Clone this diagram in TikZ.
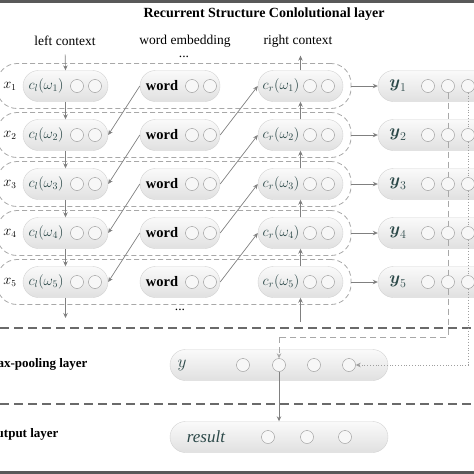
\documentclass[tikz,border=0pt]{standalone}
\usepackage{amsmath}
\usepackage{fontspec}
\setmainfont{Liberation Serif}
\usepackage{tikz}
\usetikzlibrary{arrows.meta,positioning,calc,shapes.misc}
\definecolor{pedge}{HTML}{D2D2D2}
\definecolor{dgray}{HTML}{808080}
\definecolor{lgray}{HTML}{A8A8A8}
\definecolor{sepgray}{HTML}{6A6A6A}
\definecolor{ink}{HTML}{2B4848}
\tikzset{
  % grey capsule holding a vector
  pill/.style   = {rounded rectangle, draw=pedge, top color=gray!4, bottom color=gray!24,
                   minimum height=31pt, minimum width=#1, inner sep=0pt},
  pill/.default = 80pt,
  unit/.style   = {circle, draw=gray!85, fill=gray!6, minimum size=13pt, inner sep=0pt},
  rowbox/.style = {draw=lgray, dash pattern=on 5pt off 3pt, line width=0.8pt, rounded corners=20pt,
                   minimum width=354pt, minimum height=45pt},
  arr/.style    = {-{Stealth[length=5pt,width=4.5pt]}, dgray, line width=0.7pt},
  coll/.style   = {lgray, line width=1pt, dash pattern=on 6pt off 4pt},
  pick/.style   = {gray!75, line width=0.8pt, dotted},
  sep/.style    = {sepgray, line width=1.7pt, dash pattern=on 9pt off 5pt},
  hdr/.style    = {font=\fontsize{13.5}{15}\selectfont},
  lyr/.style    = {font=\bfseries\fontsize{13}{15}\selectfont, anchor=east},
  ctx/.style    = {text=ink, font=\fontsize{14.5}{16}\selectfont},
  wrd/.style    = {font=\bfseries\fontsize{14.5}{16}\selectfont},
  outtxt/.style = {text=ink, font=\fontsize{17}{19}\selectfont},
}

\begin{document}
\begin{tikzpicture}[x=1pt,y=-1pt]
\useasboundingbox (0,0) rectangle (474,474);
\clip (0,0) rectangle (474,474);
% frame
\draw[line width=2.2pt, gray!70!black] (0,1.5) -- (474,1.5);
\draw[line width=2.2pt, gray!70!black] (0,472.5) -- (474,472.5);
% headings
\node[font=\bfseries\fontsize{14}{16}\selectfont] (title) at (264,14) {Recurrent Structure Conlolutional layer};
\node[hdr] (lc) at (65,41) {left context};
\node[hdr] (we) at (185,41) {word embedding};
\node[hdr] (rc) at (298,41) {right context};
\node[hdr] (dtop) at (184,57) {...};
% recurrent rows
\foreach \k [evaluate=\k as \yy using 86+49*(\k-1)] in {1,...,5} {
  \node[rowbox] (row\k) at (174,\yy) {};
  \node[hdr] (x\k) at (10,\yy) {$x_{\k}$};
  \node[pill=85pt] (cl\k) at (65.5,\yy) {};
  \node[ctx] (clt\k) at (46,\yy) {$c_l(\omega_{\k})$};
  \node[unit] (cla\k) at (77,\yy) {};
  \node[unit] (clb\k) at (95,\yy) {};
  \node[pill=80pt] (wd\k) at (180,\yy) {};
  \node[wrd] (wdt\k) at (162,\yy) {word};
  \node[unit] (wda\k) at (192,\yy) {};
  \node[unit] (wdb\k) at (210,\yy) {};
  \node[pill=85pt] (cr\k) at (300.5,\yy) {};
  \node[ctx] (crt\k) at (281,\yy) {$c_r(\omega_{\k})$};
  \node[unit] (cra\k) at (310,\yy) {};
  \node[unit] (crb\k) at (328,\yy) {};
  \node[pill=124pt] (y\k) at (440,\yy) {};
  \node[outtxt] (yt\k) at (398,\yy) {$\boldsymbol{y}_{\k}$};
  \node[unit] (ya\k) at (428,\yy) {};
  \node[unit] (yb\k) at (448,\yy) {};
  \node[unit] (yc\k) at (468,\yy) {};
  \draw[arr] (row\k.east) -- (y\k.west);
}
\node[hdr] (dbot) at (180,310) {...};
% context chains
\draw[arr, shorten <=5pt] (lc.south) -- (cl1.north);
\draw[arr, shorten >=5pt] (cr1.north) -- (cr1.north |- rc.south);
\foreach \k/\j in {1/2,2/3,3/4,4/5} {
  \draw[arr] (cl\k.south) -- (cl\j.north);
  \draw[arr] (cr\j.north) -- (cr\k.south);
  \draw[arr] (wd\k.west) -- (cl\j.east);
  \draw[arr] (wd\j.east) -- (cr\k.west);
}
\coordinate (lcend) at (65.5,318);
\coordinate (rcbeg) at (300.5,322);
\draw[arr] (cl5.south) -- (lcend);
\draw[arr] (rcbeg) -- (cr5.south);
% layer borders
\draw[sep] (0,328) -- (474,328);
\draw[sep] (0,404) -- (474,404);
\node[lyr] (mp) at (91,364) {Max-pooling layer};
\node[lyr] (ol) at (62,434) {Output layer};
% max-pooling
\node[pill=218pt] (pool) at (279,365) {};
\node[outtxt] (poolt) at (182,365) {$y$};
\node[unit] (poola) at (243,365) {};
\node[unit] (poolb) at (279,365) {};
\node[unit] (poolc) at (314,365) {};
\node[unit] (poold) at (349,365) {};
% output
\node[pill=218pt] (res) at (279,437) {};
\node[outtxt] (rest) at (206,437) {\itshape result};
\node[unit] (resa) at (268,437) {};
\node[unit] (resb) at (307,437) {};
\node[unit] (resc) at (345,437) {};
% pooling links
\foreach \k/\j in {1/2,2/3,3/4,4/5} {
  \draw[coll] (yb\k.south) -- (yb\j.north);
  \draw[pick] (yc\k.south) -- (yc\j.north);
}
\coordinate (bend) at (279,337);
\draw[coll] (yb5.south) -- (yb5.south |- bend) -- (bend);
\draw[arr, coll] (bend) -- (poolb.north);
\draw[pick, -{Stealth[length=5pt,width=4.5pt]}] (yc5.south) |- (poold.east);
\draw[arr] (poolb.south) -- (res.north);
\end{tikzpicture}
\end{document}
